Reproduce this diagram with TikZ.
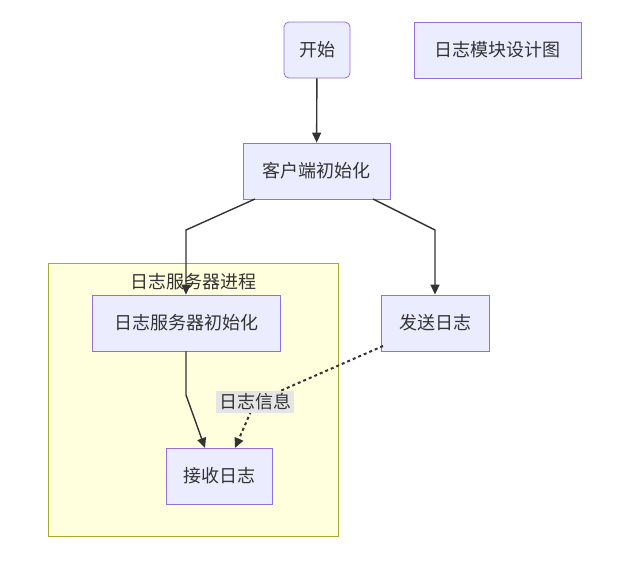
\documentclass[tikz,border=0pt]{standalone}
\usepackage{fontspec}
\setmainfont{Noto Sans CJK SC}
\usetikzlibrary{arrows.meta}
\definecolor{nfill}{HTML}{ECECFF}
\definecolor{nline}{HTML}{9370DB}
\definecolor{sfill}{HTML}{FFFFDE}
\definecolor{sline}{HTML}{AAAA33}
\definecolor{ed}{HTML}{333333}
\begin{document}
\begin{tikzpicture}[x=1pt,y=-1pt,
  box/.style={draw=nline,fill=nfill,line width=0.8pt,minimum height=56pt,inner xsep=12pt,font=\fontsize{18}{20}\selectfont,text=ed},
  edge/.style={draw=ed,line width=1.4pt,-{Triangle[length=10pt,width=9pt]}}]
\useasboundingbox (0,0) rectangle (638,570);
\draw[fill=sfill,draw=sline,line width=0.8pt] (48,263) rectangle (338,536);
\node[font=\fontsize{18}{20}\selectfont,text=ed] (sg) at (193,282) {日志服务器进程};
\node[box,rounded corners=5pt,minimum width=66pt] (start) at (317,50) {开始};
\node[box,minimum width=167pt] (title) at (497.5,50) {日志模块设计图};
\node[box,minimum width=147pt] (client) at (316.5,171) {客户端初始化};
\node[box,minimum width=188pt] (srv) at (186,323) {日志服务器初始化};
\node[box,minimum width=108pt] (send) at (435,323) {发送日志};
\node[box,minimum width=106pt] (recv) at (219,476) {接收日志};
\draw[edge] (start) -- (client);
\draw[edge] (255,199) -- (186,230) -- (srv.north -| 186,0);
\draw[edge] (373,199) -- (435,230) -- (send.north);
\draw[edge] (srv.south) -- (186,395) -- (205,448);
\draw[edge,dash pattern=on 3pt off 3pt,line width=2pt] (383,346) -- (255,402) -- (235,448);
\node[fill=gray!20,inner sep=3pt,font=\fontsize{18}{20}\selectfont,text=ed] (lbl) at (255,402) {日志信息};
\end{tikzpicture}
\end{document}
